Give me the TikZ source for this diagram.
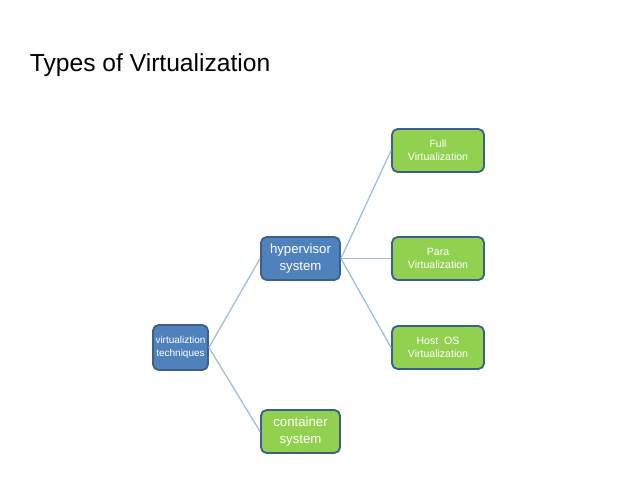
\documentclass[tikz,border=0pt]{standalone}
\usepackage{fontspec}
\setmainfont{Liberation Sans}
\usepackage{tikz}
\usetikzlibrary{positioning}
\definecolor{boxblue}{RGB}{79,129,189}
\definecolor{boxgreen}{RGB}{146,208,80}
\definecolor{edgeblue}{RGB}{60,96,140}
\definecolor{linkblue}{RGB}{160,188,218}

\begin{document}
\begin{tikzpicture}[x=0.025cm, y=-0.025cm, every node/.style={font=\small}]
\tikzset{bluebox/.style={draw=edgeblue, line width=1.3pt, rounded corners=4pt, fill=boxblue, text=white, align=center, inner sep=1pt},
  greenbox/.style={draw=edgeblue, line width=1.3pt, rounded corners=4pt, fill=boxgreen, text=white, align=center, inner sep=1pt, minimum width=2.3cm, minimum height=1.075cm, font=\fontsize{7.5}{9}\selectfont},
  link/.style={linkblue, line width=0.9pt}}
\useasboundingbox (0,0) rectangle (638,478);
\node[anchor=base west, font=\fontsize{17.5}{20}\selectfont] (title) at (25,72) {Types of Virtualization};
\node[bluebox, minimum width=1.375cm, minimum height=1.125cm, font=\fontsize{7.1}{9}\selectfont] (tech) at (180.5,347.5) {virtualiztion\\techniques};
\node[bluebox, minimum width=1.975cm, minimum height=1.075cm, font=\fontsize{9.4}{11.5}\selectfont] (hyper) at (300.5,258.5) {hypervisor\\system};
\node[bluebox, fill=boxgreen, minimum width=1.975cm, minimum height=1.075cm, font=\fontsize{9.4}{11.5}\selectfont] (cont) at (300.5,431.5) {container\\system};
\node[greenbox] (full) at (438,150.5) {Full\\Virtualization};
\node[greenbox] (para) at (438,258.5) {Para\\Virtualization};
\node[greenbox] (host) at (438,347.5) {Host~~OS\\Virtualization};
\draw[link] (tech.east) -- (hyper.west);
\draw[link] (tech.east) -- (cont.west);
\draw[link] (hyper.east) -- (full.west);
\draw[link] (hyper.east) -- (para.west);
\draw[link] (hyper.east) -- (host.west);
\end{tikzpicture}
\end{document}
